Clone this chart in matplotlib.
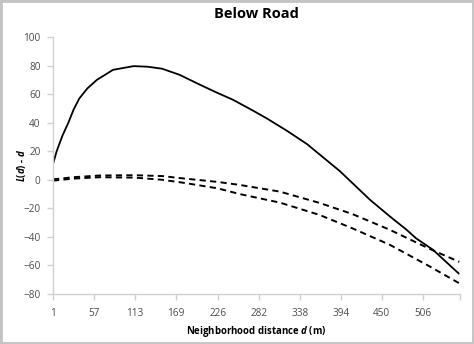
import matplotlib
matplotlib.use("Agg")
import matplotlib.pyplot as plt
from matplotlib.patches import Rectangle

plt.rcParams['font.family'] = ['Open Sans', 'DejaVu Sans']
plt.rcParams['mathtext.fontset'] = 'custom'
plt.rcParams['mathtext.it'] = 'Open Sans:bold:italic'
plt.rcParams['mathtext.rm'] = 'Open Sans:bold'

# neighborhood distance d (m) and L(d) - d for the observed pattern
d_obs = [1, 6, 14, 22, 29, 37, 48, 61, 83, 111, 130, 150, 174, 200, 225, 247,
         274, 293, 320, 348, 393, 434, 462, 484, 497, 520, 556]
l_obs = [11, 20, 31, 40, 49, 57, 64, 70, 77, 79.6, 79.2, 77.8, 73.5, 67, 61, 56,
         48.5, 43, 34.5, 25, 6, -14, -26, -35, -41, -49, -66]

# simulation envelope, upper and lower
d_env = [1, 29, 65, 113, 150, 178, 226, 256, 311, 365, 410, 461, 516, 556]
upper = [0.3, 1.8, 3.0, 3.2, 2.6, 1.0, -1.5, -3.6, -8.3, -16.2, -24, -35, -48.5, -57.5]
lower = [-0.6, 0.8, 1.8, 1.5, 0.0, -2.0, -6.0, -10.0, -16.0, -24.6, -34, -45.5, -60.8, -72.5]

xtick_labels = [1, 57, 113, 169, 226, 282, 338, 394, 450, 506]
x_end = 557

fig = plt.figure(figsize=(4.74, 3.44), dpi=100)
ax = fig.add_axes([53 / 474, 50 / 344, 407 / 474, 257 / 344])

ax.plot(d_obs, l_obs, color='black', lw=1.3, solid_capstyle='butt')
ax.plot(d_env, upper, color='black', lw=1.4, dashes=(3.2, 2.2))
ax.plot(d_env, lower, color='black', lw=1.4, dashes=(3.2, 2.2))

ax.set_xlim(1, x_end)
ax.set_ylim(-80, 100)
ax.set_yticks(range(-80, 101, 20))
ax.set_xticks(xtick_labels + [x_end])
ax.set_xticklabels([str(v) for v in xtick_labels] + [''])

grey = '#d0d0d0'
for side in ['top', 'right']:
    ax.spines[side].set_visible(False)
for side in ['left', 'bottom']:
    ax.spines[side].set_color(grey)
    ax.spines[side].set_linewidth(1.0)
ax.tick_params(axis='both', colors=grey, length=4, width=1.0,
               labelcolor='#4d4d4d', labelsize=7.2)
ax.tick_params(axis='x', pad=6)
ax.tick_params(axis='y', pad=5)

ax.set_title('Below Road', fontsize=10.5, fontweight='bold', pad=14)
ax.set_xlabel('Neighborhood distance $d$ (m)', fontsize=6.9,
              fontweight='bold', labelpad=4)
ax.set_ylabel('$L(d)$ - $d$', fontsize=6.9, fontweight='bold')
ax.yaxis.set_label_coords(-0.062, 0.5)

# chart area border
fig.patches.append(Rectangle((0, 0), 1, 1, transform=fig.transFigure,
                             fill=False, edgecolor='#c4c4c4', lw=3.5))

fig.savefig('out.png', dpi=100)
